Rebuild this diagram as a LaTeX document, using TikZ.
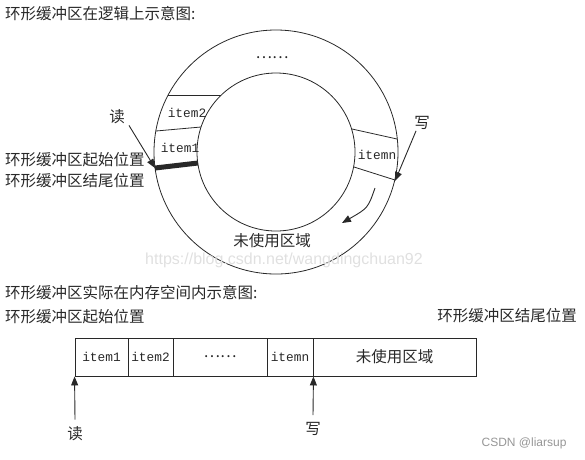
\documentclass[tikz,border=0pt]{standalone}
\usepackage{fontspec}
\setmainfont{Noto Sans CJK SC}
\newfontfamily\itemfont{Liberation Mono}
\newfontfamily\markfont{Liberation Sans}
\usetikzlibrary{arrows.meta, positioning, calc}
\definecolor{ink}{RGB}{40,40,40}
\definecolor{mark}{RGB}{150,150,150}

\begin{document}
\begin{tikzpicture}[
    x=1pt, y=-1pt,
    lbl/.style={font=\fontsize{15.5}{18}\selectfont, text=ink, inner sep=1pt},
    itm/.style={font=\itemfont\fontsize{12.8}{14}\selectfont, text=ink, inner sep=1pt},
    cell/.style={draw=ink, line width=0.9pt, minimum height=38pt, inner sep=0pt},
    arr/.style={-{Triangle[length=9pt,width=7pt]}, draw=ink, line width=0.9pt}
]
\useasboundingbox (0,0) rectangle (585,459);

% Titel oben
\node[lbl, anchor=west] (top) at (4,14) {环形缓冲区在逻辑上示意图:};

% Ring
\coordinate (c) at (276,152);
\draw[ink, line width=0.8pt] (c) circle (122pt);
\draw[ink, line width=0.8pt] (c) circle (79pt);

% Zellen im Ring
\draw[ink, line width=0.8pt] (168,95) -- (221,95);
\draw[ink, line width=0.8pt] (156,131) -- (201,127);
\coordinate (tl) at (155,168);
\coordinate (tr) at (198,163);
\draw[ink, line width=5pt] (tl) -- (tr);
\draw[ink, line width=0.8pt] (352,129) -- (397,139);
\coordinate (wp) at (395,180);
\draw[ink, line width=0.8pt] (354,167) -- (wp);

\node[itm] (ri2) at (187,113) {item2};
\node[itm] (ri1) at (180,148) {item1};
\node[itm] (rin) at (377,155) {itemn};
\node[lbl] (rdots) at (272,58) {……};
\node[lbl, inner sep=0pt] (rfree) at (272,241) {未使用区域};

% Lesen / Schreiben
\node[lbl] (r1) at (117,117) {读};
\draw[arr] ([xshift=3pt]r1.south east) -- (tl);
\node[lbl] (w1) at (422,123) {写};
\draw[arr] ([xshift=3pt]w1.south west) -- ([yshift=-1pt]wp);

% Laufrichtung
\coordinate (d1) at (375,188);
\coordinate (d2) at (342,223);
\draw[arr] (d1) .. controls (368,208) .. (d2);

\node[lbl, anchor=west] (s1) at (4,160) {环形缓冲区起始位置};
\node[lbl, anchor=west] (e1) at (4,181) {环形缓冲区结尾位置};

% Wasserzeichen
\node[font=\markfont\fontsize{16}{18}\selectfont, text=black!12, inner sep=0pt] (wm) at (284,260) {https://blog.csdn.net/wangdingchuan92};

% Speicher
\node[lbl, anchor=west] (bot) at (4,293) {环形缓冲区实际在内存空间内示意图:};
\node[lbl, anchor=west] (s2) at (4,317) {环形缓冲区起始位置};
\node[lbl, anchor=east] (e2) at (578,316) {环形缓冲区结尾位置};

\node[cell, minimum width=53pt, itm] (b1) at (101.5,357) {item1};
\node[cell, minimum width=45pt, itm] (b2) at (150.5,357) {item2};
\node[cell, minimum width=94pt, lbl] (b3) at (220,357) {……};
\node[cell, minimum width=46pt, itm] (b4) at (290,357) {itemn};
\node[cell, minimum width=163pt, lbl] (b5) at (394.5,357) {未使用区域};

\node[lbl] (r2) at (75,434) {读};
\draw[arr] ([yshift=6pt]r2.north) -- (b1.south west);
\node[lbl] (w2) at (313,429) {写};
\draw[arr] ([yshift=6pt]w2.north) -- (b4.south east);

\node[font=\markfont\fontsize{12}{14}\selectfont, text=mark, anchor=east] (csdn) at (570,443) {CSDN @liarsup};
\end{tikzpicture}
\end{document}
